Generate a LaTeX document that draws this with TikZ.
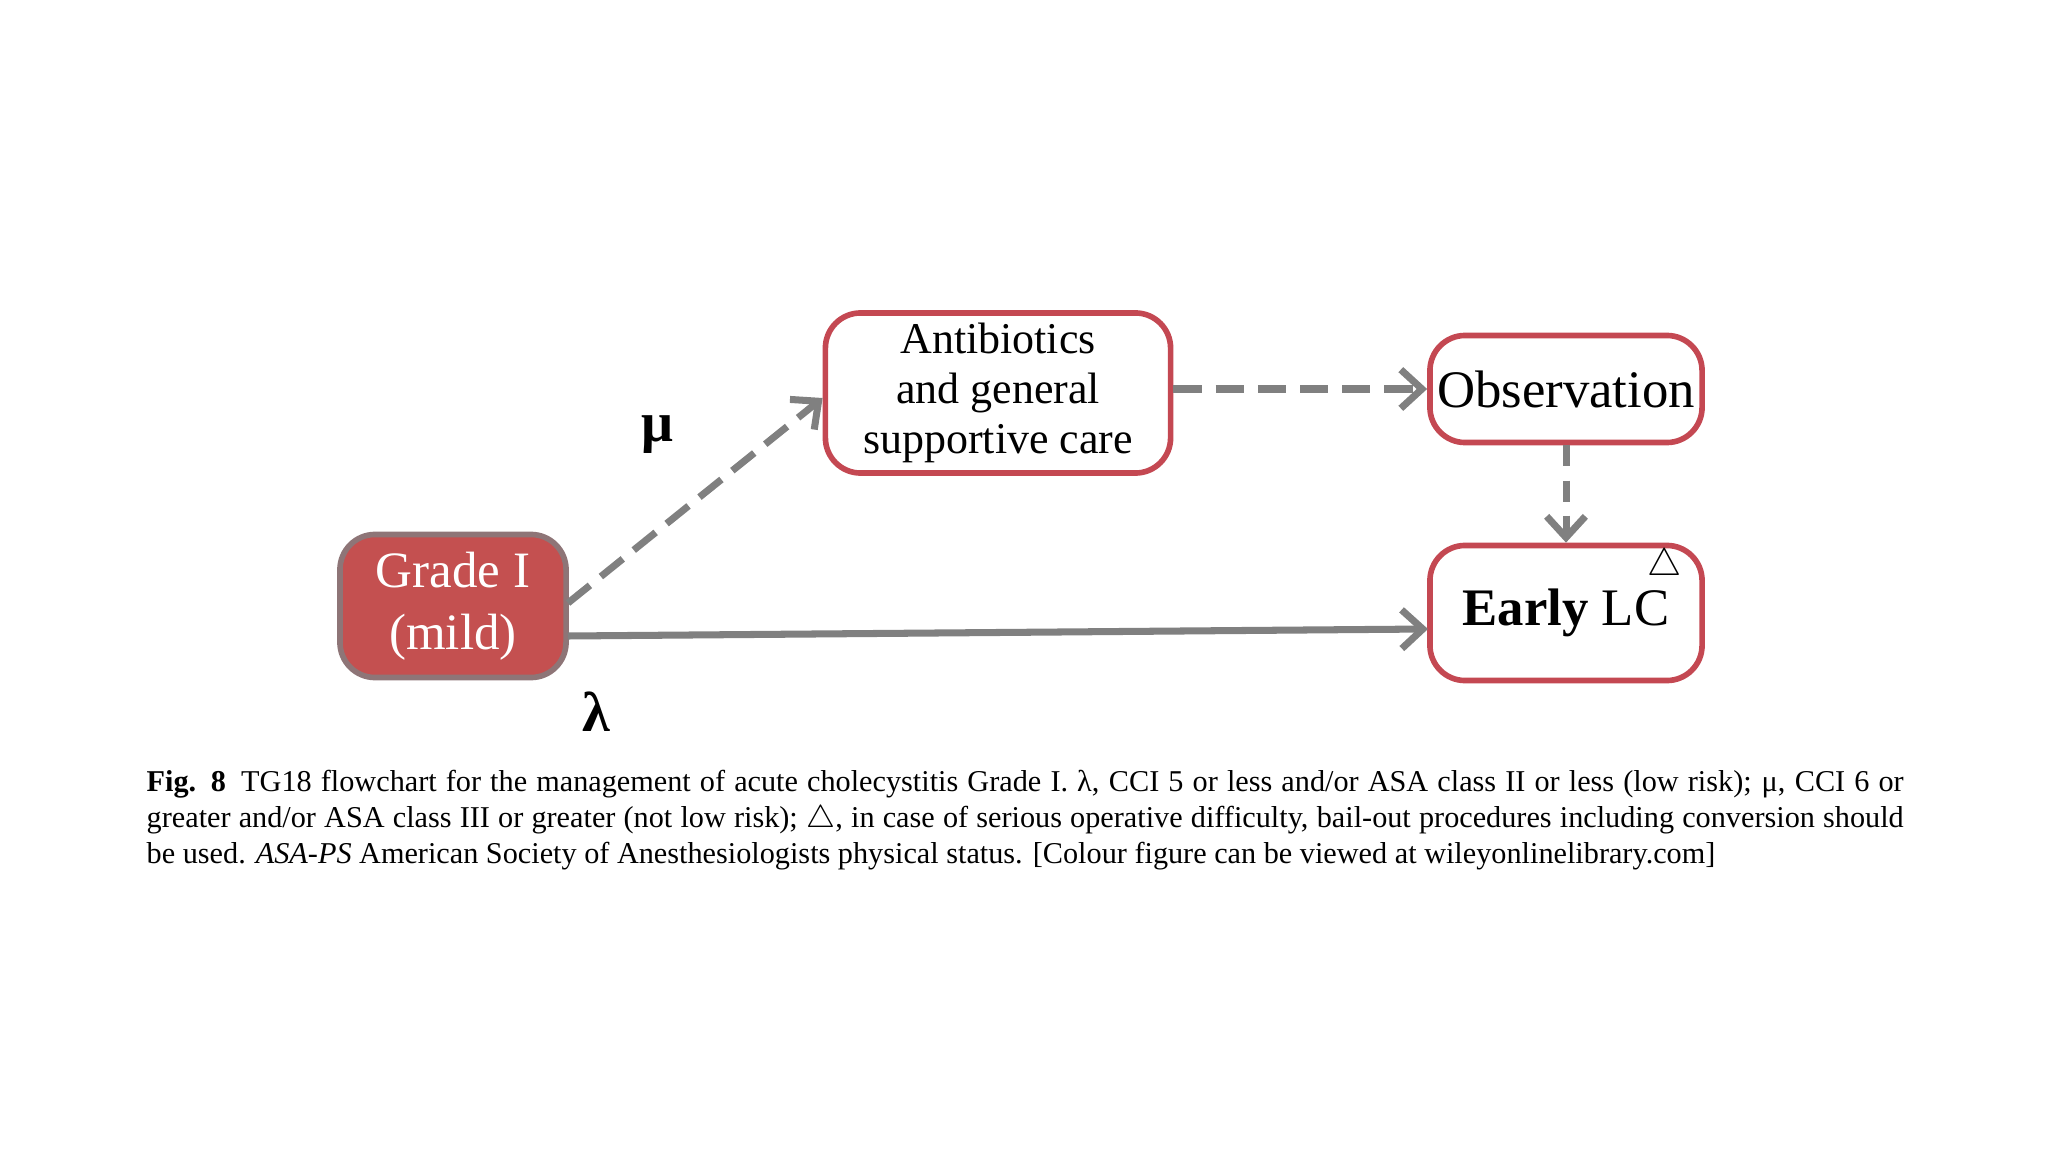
\documentclass[tikz,border=0pt]{standalone}
\usepackage{fontspec}
\setmainfont{Liberation Serif}
\usetikzlibrary{arrows.meta}
\definecolor{bred}{RGB}{196,72,82}
\definecolor{fred}{RGB}{196,80,80}
\definecolor{agray}{RGB}{128,128,128}
\tikzset{
 box/.style={draw=bred,line width=1.6pt,rounded corners=10pt,fill=white,align=center,inner sep=0pt},
 conn/.style={draw=agray,line width=2pt,-{Straight Barb[length=6pt,width=11pt]}},
}
\begin{document}
\begin{tikzpicture}[x=0.01cm,y=-0.01cm]
\useasboundingbox (0,0) rectangle (2048,1152);
\node[box,fill=fred,draw=agray!80!bred,text=white,minimum width=2.26cm,minimum height=1.43cm,font=\fontsize{14.5}{17.5}\selectfont] (g) at (453,606) {Grade I\\(mild)};
\node[box,minimum width=3.45cm,minimum height=1.6cm,font=\fontsize{12.5}{14.2}\selectfont] (a) at (998,393) {Antibiotics\\and general\\supportive care};
\node[box,minimum width=2.72cm,minimum height=1.07cm,font=\fontsize{15}{18}\selectfont] (o) at (1566,389) {Observation};
\node[box,minimum width=2.72cm,minimum height=1.35cm,font=\fontsize{15}{18}\selectfont] (e) at (1566,613) {\textbf{Early} LC};
\node[font=\fontsize{11}{12}\selectfont] (tri) at (1665,566) {$\bigtriangleup$};
\node[font=\bfseries\fontsize{16}{18}\selectfont] (mu) at (657,435) {μ};
\node[font=\bfseries\fontsize{16}{18}\selectfont] (la) at (596,712) {λ};
\coordinate (ms) at (568,603);
\coordinate (gs) at (568,636);
\coordinate (es) at (1428,629);
\draw[conn,dash pattern=on 8pt off 4pt] (ms) -- (a.west|-0,398);
\draw[conn] (gs) -- (es);
\draw[conn,dash pattern=on 8pt off 4pt] (a.east|-o) -- (o.west);
\draw[conn,dash pattern=on 6pt off 4pt] (o.south) -- (e.north);
\node[anchor=north west,text width=17.56cm,align=justify,font=\fontsize{8.6}{10.1}\selectfont,inner sep=0pt] (cap) at (146,770) {\textbf{Fig. 8}\enspace TG18 flowchart for the management of acute cholecystitis Grade I. λ, CCI 5 or less and/or ASA class II or less (low risk); μ, CCI 6 or greater and/or ASA class III or greater (not low risk); $\triangle$, in case of serious operative difficulty, bail-out procedures including conversion should be used. \textit{ASA-PS} American Society of Anesthesiologists physical status. [Colour figure can be viewed at wileyonlinelibrary.com]};
\end{tikzpicture}
\end{document}
